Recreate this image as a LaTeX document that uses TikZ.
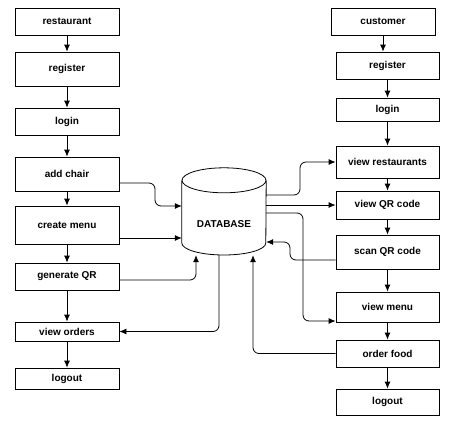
\documentclass[tikz,border=0pt]{standalone}
\usepackage{fontspec}
\setmainfont{Liberation Sans}
\usetikzlibrary{arrows.meta,positioning}

\begin{document}
\begin{tikzpicture} [
        x = 1pt, y = -1pt,
        box/.style = { draw, line width = 0.8pt, minimum width = 104pt, inner sep = 0, font = \fontsize{10}{12}\selectfont\bfseries },
        rbox/.style = { box, minimum width = 103pt },
        arr/.style = { line width = 0.8pt, -{Latex[length = 7pt, width = 6pt]} },
        elbow/.style = { arr, rounded corners = 6pt }
        ]
        \useasboundingbox (0,0) rectangle (474,421);

        \node [box, minimum height = 27pt] (rest) at (67,21.5) {restaurant};
        \node [box, minimum height = 34pt] (rreg) at (67,69) {register};
        \node [box, minimum height = 27pt] (rlog) at (67,121.5) {login};
        \node [box, minimum height = 34pt] (chair) at (67,174) {add chair};
        \node [box, minimum height = 38pt] (menu) at (67,225) {create menu};
        \node [box, minimum height = 27pt] (genqr) at (67,276.5) {generate QR};
        \node [box, minimum height = 19pt] (orders) at (67,331.5) {view orders};
        \node [box, minimum height = 21pt] (rout) at (67,378.5) {logout};

        \node [box, minimum height = 27pt] (cust) at (383,21.5) {customer};
        \node [rbox, minimum height = 27pt] (creg) at (387.5,65.5) {register};
        \node [rbox, minimum height = 23pt] (clog) at (387.5,109.5) {login};
        \node [rbox, minimum height = 32pt] (vrest) at (387.5,162) {view restaurants};
        \node [rbox, minimum height = 28pt] (vqr) at (387.5,205) {view QR code};
        \node [rbox, minimum height = 34pt] (scan) at (387.5,252) {scan QR code};
        \node [rbox, minimum height = 30pt] (vmenu) at (387.5,307) {view menu};
        \node [rbox, minimum height = 27pt] (order) at (387.5,353.5) {order food};
        \node [rbox, minimum height = 26pt] (cout) at (387.5,402) {logout};

        \node [minimum width = 84pt, minimum height = 87pt, inner sep = 0, text height = 31pt, text depth = 0pt,
               font = \fontsize{10}{12}\selectfont\bfseries] (db) at (224,211.5) {DATABASE};
        \draw [line width = 0.8pt] (db.north) ++(0,12.5) ellipse [x radius = 42, y radius = 12.5];
        \draw [line width = 0.8pt] (db.west |- 0,180.5) -- (db.west |- 0,243)
            arc [start angle = 180, end angle = 0, x radius = 42, y radius = 12] -- (db.east |- 0,180.5);

        \draw [arr] (rest) -- (rreg);
        \draw [arr] (rreg) -- (rlog);
        \draw [arr] (rlog) -- (chair);
        \draw [arr] (chair) -- (menu);
        \draw [arr] (menu) -- (genqr);
        \draw [arr] (genqr) -- (orders);
        \draw [arr] (orders) -- (rout);

        \draw [arr] (cust.south) -- (cust.south |- creg.north);
        \draw [arr] (creg) -- (clog);
        \draw [arr] (clog) -- (vrest);
        \draw [arr] (vrest) -- (vqr);
        \draw [arr] (vqr) -- (scan);
        \draw [arr] (scan) -- (vmenu);
        \draw [arr] (vmenu) -- (order);
        \draw [arr] (order) -- (cout);

        \draw [elbow] ([yshift = -9pt]chair.east) -- (155,183) -- (155,206) -- (db.west |- 0,206);
        \draw [arr] ([yshift = -13pt]menu.east) -- (db.west |- 0,238);
        \draw [elbow] ([yshift = -3.5pt]genqr.east) -- (196,280) -- (db.south -| 196,0);
        \draw [elbow] (db.south -| 219,0) -- (219,331.5) -- (orders.east);

        \draw [elbow] (db.east |- 0,195) -- (300,195) -- (300,162) -- (vrest.west);
        \draw [arr] (db.east |- 0,205) -- (vqr.west);
        \draw [elbow] (db.east |- 0,213) -- (303,213) -- (303,321) -- ([yshift = -14pt]vmenu.west);
        \draw [elbow] ([yshift = -8pt]scan.west) -- (290,260) -- (290,242) -- (db.east |- 0,242);
        \draw [elbow] (order.west) -- (253,353.5) -- (db.south -| 253,0);
\end{tikzpicture}
\end{document}
